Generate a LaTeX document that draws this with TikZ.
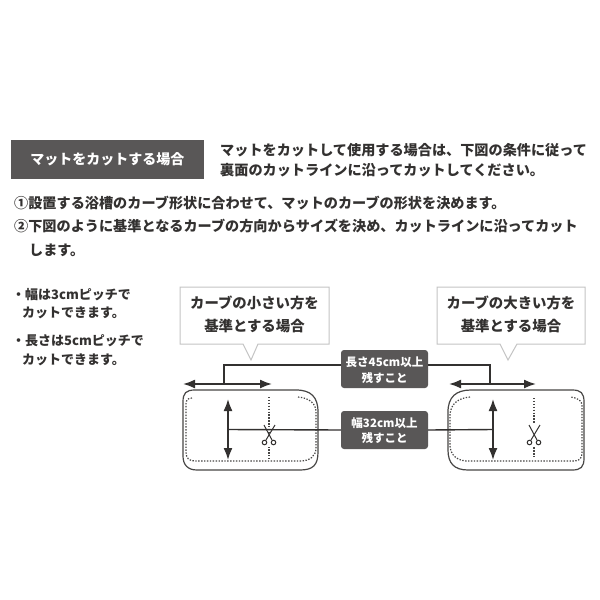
\documentclass[tikz,border=0pt]{standalone}
\usepackage{fontspec}
\setmainfont{Noto Sans CJK JP}
\usetikzlibrary{arrows.meta}
\definecolor{ink}{HTML}{333130}
\definecolor{dark}{HTML}{595757}
\definecolor{calloutline}{HTML}{C4C4C4}
\newcommand{\jp}[1]{\fontsize{#1}{#1}\selectfont\bfseries}
\tikzset{
  x=1pt,y=-1pt,
  txt/.style={inner sep=0pt,anchor=west,text=ink,font=\jp{14.15}},
  note/.style={inner sep=0pt,anchor=west,text=ink,font=\jp{13}},
  ctxt/.style={inner sep=0pt,text=ink,font=\jp{14.4}},
  darkbox/.style={fill=dark,rounded corners=3pt,minimum width=87pt,minimum height=38pt,inner sep=0pt},
  wtxt/.style={inner sep=0pt,text=white,font=\jp{11.5}},
  balloon/.style={draw=calloutline,line width=1pt,fill=white},
  conn/.style={draw=ink,line width=1.4pt},
  dbl/.style={draw=ink,line width=1.7pt,{Latex[length=12pt,width=9pt]}-{Latex[length=12pt,width=9pt]}},
  mat/.style={draw=ink!90,line width=1.2pt},
  cutline/.style={draw=ink!90,line width=1.2pt,dash pattern=on 1.4pt off 1.5pt},
  snip/.style={draw=ink,line width=1pt}
}
\begin{document}
\begin{tikzpicture}
\useasboundingbox (0,0) rectangle (600,600);
\fill[white] (0,0) rectangle (600,600);

% header
\node[fill=dark,minimum width=193pt,minimum height=39pt,inner sep=0pt,text=white,font=\jp{14}] (head) at (107.5,159.5) {マットをカットする場合};
\node[txt] (t1) at (220,150) {マットをカットして使用する場合は、下図の条件に従って};
\node[txt] (t2) at (220,170) {裏面のカットラインに沿ってカットしてください。};
\node[txt] (t3) at (14,203) {①設置する浴槽のカーブ形状に合わせて、マットのカーブの形状を決めます。};
\node[txt] (t4) at (14,226) {②下図のように基準となるカーブの方向からサイズを決め、カットラインに沿ってカット};
\node[txt] (t5) at (29,250) {します。};

% left notes
\node[note] (n1) at (12,295) {・幅は3cmピッチで};
\node[note] (n2) at (22,313) {カットできます。};
\node[note] (n3) at (12,341) {・長さは5cmピッチで};
\node[note] (n4) at (22,360) {カットできます。};

% callouts
\draw[balloon] (180,287) -- (329,287) -- (329,344) -- (258,344) -- (251,360) -- (243,344) -- (180,344) -- cycle;
\node[ctxt] (c1a) at (254.5,303) {カーブの小さい方を};
\node[ctxt] (c1b) at (254.5,326) {基準とする場合};
\draw[balloon] (437,287) -- (585,287) -- (585,344) -- (517,344) -- (508,360) -- (500,344) -- (437,344) -- cycle;
\node[ctxt] (c2a) at (511,303) {カーブの大きい方を};
\node[ctxt] (c2b) at (511,326) {基準とする場合};

% left mat
\draw[mat] (183,430) -- (183,402) .. controls (183,393) and (186,390) .. (195,390) -- (296,390) .. controls (311,390) and (318,397) .. (318,412) -- (318,452) .. controls (318,465) and (313,470) .. (300,470) -- (197,470) .. controls (188,470) and (183,465) .. (183,456) -- cycle;
\draw[cutline] (192,398) .. controls (188,398) and (186,400) .. (186,404) -- (186,452) .. controls (186,458) and (189,461) .. (195,461) -- (300,461) .. controls (310,461) and (316,456) .. (316,448) -- (316,412) .. controls (316,404) and (310,398) .. (298,397);
\draw[cutline] (269,397) -- (269,458);

% right mat
\draw[mat] (448,430) -- (448,412) .. controls (448,397) and (456,390) .. (471,390) -- (572,390) .. controls (581,390) and (584,393) .. (584,402) -- (584,458) .. controls (584,467) and (581,470) .. (572,470) -- (468,470) .. controls (454,470) and (448,463) .. (448,450) -- cycle;
\draw[cutline] (470,397) .. controls (458,398) and (451,404) .. (450,414) -- (450,446) .. controls (451,455) and (456,460) .. (466,461) -- (574,461) .. controls (580,461) and (582,458) .. (582,452) -- (582,406) .. controls (582,401) and (579,398) .. (570,397);
\draw[cutline] (534,398) -- (534,458);

% boxes
\node[darkbox] (lenbox) at (384.5,369) {};
\node[wtxt] (l1) at (384.5,362) {長さ45cm以上};
\node[wtxt] (l2) at (384.5,378) {残すこと};
\node[darkbox] (widbox) at (384.5,430) {};
\node[wtxt] (w1) at (384.5,423) {幅32cm以上};
\node[wtxt] (w2) at (384.5,438) {残すこと};

% arrow ends
\coordinate (la1) at (183,384); \coordinate (la2) at (272,384);
\coordinate (ra1) at (449,384); \coordinate (ra2) at (536,384);
\coordinate (lv1) at (228,399); \coordinate (lv2) at (228,460);
\coordinate (rv1) at (493,399); \coordinate (rv2) at (493,460);
\coordinate (lj) at (224,384); \coordinate (rj) at (490,384);
\coordinate (lm) at (228,429.5); \coordinate (rm) at (493,429.5);

% scissors background
\fill[white] (527,424) rectangle (542,447);
\fill[white] (262,436) rectangle (278,447);

\draw[dbl] (la1) -- (la2);
\draw[dbl] (ra1) -- (ra2);
\draw[dbl] (lv1) -- (lv2);
\draw[dbl] (rv1) -- (rv2);
\draw[conn] ([yshift=4pt]lenbox.west) -| (lj);
\draw[conn] ([yshift=4pt]lenbox.east) -| (rj);
\draw[conn] (widbox.west) -- (lm);
\draw[conn] (widbox.east) -- (rm);

% scissors
\draw[snip] (264,425) -- (272,440);
\draw[snip] (275,425) -- (266,440);
\draw[snip] (264.5,442.5) circle (2.3);
\draw[snip] (273.5,442.5) circle (2.3);
\draw[snip] (529,425) -- (537,440);
\draw[snip] (540,425) -- (531,440);
\draw[snip] (529.5,442.5) circle (2.3);
\draw[snip] (538.5,442.5) circle (2.3);
\end{tikzpicture}
\end{document}
